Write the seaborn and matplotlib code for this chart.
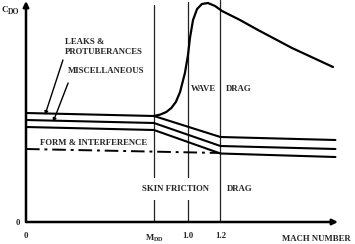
import pandas as pd
import seaborn as sns
import matplotlib.pyplot as plt

# Schematic drag build-up: C_D0 vs Mach number
mach_breaks = [0.0, 0.79, 1.2, 1.91]
leaks_top = [1.09, 1.06, 0.85, 0.82]      # leaks & protuberances (upper edge)
misc_top = [1.02, 0.99, 0.76, 0.73]       # miscellaneous (upper edge)
form_top = [0.95, 0.92, 0.685, 0.65]      # form & interference (upper edge)

skin_mach = [0.0, 1.2]
skin_top = [0.73, 0.69]                   # skin friction (dash-dot)

wave_mach = [0.79, 0.83, 0.866, 0.897, 0.925, 0.951, 0.981, 1.0, 1.012, 1.031,
             1.056, 1.086, 1.123, 1.167, 1.21, 1.321, 1.432, 1.642, 1.895]
wave_cd = [1.06, 1.075, 1.10, 1.14, 1.20, 1.30, 1.49, 1.67, 1.84, 2.02,
           2.13, 2.18, 2.19, 2.16, 2.11, 2.02, 1.92, 1.74, 1.55]

tick_pos = [0.0, 0.79, 1.0, 1.2]
tick_labels = ['0', r'$\mathrm{M_{DD}}$', '1.0', '1.2']
vline_top = [2.17, 2.20, 2.22]

sns.set_style('white')
plt.rcParams['font.family'] = ['Liberation Serif', 'DejaVu Serif']
plt.rcParams['font.weight'] = 'bold'
plt.rcParams['mathtext.fontset'] = 'custom'
plt.rcParams['mathtext.rm'] = 'Liberation Serif:bold'
plt.rcParams['mathtext.it'] = 'Liberation Serif:bold'

fig = plt.figure(figsize=(3.55, 2.44), dpi=100)
ax = fig.add_axes([26 / 355, 22 / 244, 312 / 355, 222 / 244])
ax.set_xlim(0, 312 / 162)
ax.set_ylim(0, 2.22)

lw = 1.5
for cd in [leaks_top, misc_top, form_top]:
    sns.lineplot(x=mach_breaks, y=cd, color='black', lw=lw, ax=ax)
sns.lineplot(x=skin_mach, y=skin_top, color='black', lw=1.4, ax=ax,
             linestyle=(0, (7, 2.5, 1.5, 2.5)))
sns.lineplot(x=wave_mach, y=wave_cd, color='black', lw=1.6, ax=ax)

for xp, top in zip(tick_pos[1:], vline_top):
    ax.plot([xp, xp], [0, top], color='#222222', lw=0.9, zorder=1)

for s in ax.spines.values():
    s.set_visible(False)

# axes with arrow heads
arrow = dict(arrowstyle='-|>', lw=1.8, color='black', mutation_scale=8,
             shrinkA=0, shrinkB=0)
ax.annotate('', xy=(312 / 162, 0), xytext=(0, 0), arrowprops=arrow,
            annotation_clip=False)
ax.annotate('', xy=(0, 2.21), xytext=(0, 0), arrowprops=arrow,
            annotation_clip=False)

ax.set_xticks(tick_pos)
ax.set_xticklabels(tick_labels)
ax.set_yticks([0])
ax.set_yticklabels(['0'])
ax.tick_params(axis='x', length=0, pad=7.5, labelsize=6.3)
ax.tick_params(axis='y', length=0, pad=4, labelsize=6.3)

fs = 6.3
kw = dict(fontsize=fs, fontweight='bold', va='center', ha='left')
ax.text(0.24, 1.80, 'LEAKS &', **kw)
ax.text(0.24, 1.70, 'PROTUBERANCES', **kw)
ax.text(0.26, 1.51, 'MISCELLANEOUS', **kw)
ax.text(0.086, 0.79, 'FORM & INTERFERENCE', **kw)
ax.text(1.02, 1.33, 'WAVE', **kw)
ax.text(1.235, 1.33, 'DRAG', **kw)
ax.text(0.716, 0.33, 'SKIN FRICTION', zorder=5,
        bbox=dict(boxstyle='square,pad=0.8', fc='white', ec='none'), **kw)
ax.text(1.24, 0.33, 'DRAG', **kw)
ax.text(1.58, -0.17, 'MACH NUMBER', clip_on=False, **kw)

small = dict(arrowstyle='-|>', lw=1.0, color='black', mutation_scale=5,
             shrinkA=0, shrinkB=0)
ax.annotate('', xy=(0.117, 1.07), xytext=(0.228, 1.62), arrowprops=small)
ax.annotate('', xy=(0.167, 1.00), xytext=(0.26, 1.39), arrowprops=small)

fig.text(2 / 355, 1 - 10 / 244, 'C', fontsize=6.5, fontweight='bold',
         va='center', ha='left')
fig.text(8 / 355, 1 - 12 / 244, 'DO', fontsize=5.5, fontweight='bold',
         va='center', ha='left')

fig.savefig('out.png', dpi=100)
